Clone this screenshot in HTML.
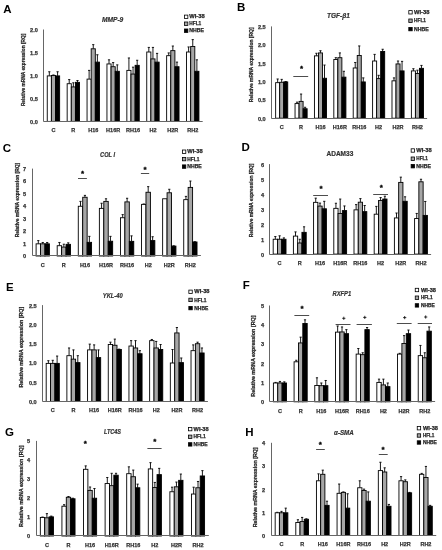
<!DOCTYPE html>
<html><head><meta charset="utf-8"><title>Figure</title><style>
html,body{margin:0;padding:0;background:#fff;}
svg{display:block;filter:blur(0.3px);}
text{font-family:"Liberation Sans", Arial, sans-serif;}
.lt{font-size:11.5px;font-weight:bold;fill:#000;}
.ti{font-size:6.6px;font-style:italic;font-weight:bold;fill:#333;stroke:#333;stroke-width:0.2px;}
.tn{font-size:6.6px;font-weight:bold;fill:#333;stroke:#333;stroke-width:0.2px;}
.tk{font-size:5.6px;font-weight:bold;fill:#333;stroke:#333;stroke-width:0.25px;text-anchor:end;}
.cl{font-size:5.5px;font-weight:bold;fill:#333;stroke:#333;stroke-width:0.25px;text-anchor:middle;}
.yt{font-size:5.5px;font-weight:bold;fill:#262626;stroke:#262626;stroke-width:0.25px;}
.yt2{font-size:5.6px;font-weight:bold;fill:#262626;stroke:#262626;stroke-width:0.25px;}
.le{font-size:5.0px;font-weight:bold;fill:#262626;stroke:#262626;stroke-width:0.25px;}
.ax{fill:none;stroke:#666;stroke-width:1.0;}
.br{stroke:#000;stroke-width:0.9;}
.eb{fill:none;stroke:#000;stroke-width:0.9;}
.sg{fill:none;stroke:#4d4d4d;stroke-width:1.0;}
.pl{fill:none;stroke:#000;stroke-width:0.8;}
.st{font-size:8px;font-weight:bold;fill:#000;stroke:#000;stroke-width:0.3px;text-anchor:middle;}
.lg{stroke:#000;stroke-width:0.8;}
</style></head>
<body><svg width="442" height="550" viewBox="0 0 442 550">
<rect width="442" height="550" fill="#fff"/>
<text x="3.2" y="13.3" class="lt">A</text>
<text x="102" y="21.7" class="ti" textLength="21.3" lengthAdjust="spacingAndGlyphs">MMP-9</text>
<text x="37.8" y="123.8" class="tk">0.0</text>
<text x="37.8" y="100.83" class="tk">0.5</text>
<text x="37.8" y="77.85" class="tk">1.0</text>
<text x="37.8" y="54.87" class="tk">1.5</text>
<text x="37.8" y="31.9" class="tk">2.0</text>
<text transform="translate(25.3 106.1) rotate(-90)" class="yt" textLength="72.5" lengthAdjust="spacingAndGlyphs">Relative mRNA expression [RQ]</text>
<path d="M49.32 75.9V71.76M48.22 71.76H50.42" class="eb"/>
<rect x="47.25" y="75.9" width="4.13" height="45.5" fill="#ffffff" class="br"/>
<path d="M53.45 75.44V74.98M52.35 74.98H54.55" class="eb"/>
<rect x="51.38" y="75.44" width="4.13" height="45.96" fill="#a6a6a6" class="br"/>
<path d="M57.58 75.9V71.76M56.48 71.76H58.68" class="eb"/>
<rect x="55.51" y="75.9" width="4.13" height="45.5" fill="#000000" class="br"/>
<text x="53.45" y="132.2" class="cl">C</text>
<path d="M69.22 83.71V79.58M68.12 79.58H70.32" class="eb"/>
<rect x="67.16" y="83.71" width="4.13" height="37.69" fill="#ffffff" class="br"/>
<path d="M73.35 86.93V82.79M72.25 82.79H74.45" class="eb"/>
<rect x="71.28" y="86.93" width="4.13" height="34.47" fill="#a6a6a6" class="br"/>
<path d="M77.48 82.33V80.5M76.38 80.5H78.58" class="eb"/>
<rect x="75.42" y="82.33" width="4.13" height="39.07" fill="#000000" class="br"/>
<text x="73.35" y="132.2" class="cl">R</text>
<path d="M89.12 79.12V70.39M88.02 70.39H90.22" class="eb"/>
<rect x="87.05" y="79.12" width="4.13" height="42.28" fill="#ffffff" class="br"/>
<path d="M93.25 48.79V44.65M92.15 44.65H94.35" class="eb"/>
<rect x="91.18" y="48.79" width="4.13" height="72.61" fill="#a6a6a6" class="br"/>
<path d="M97.38 62.12V54.76M96.28 54.76H98.48" class="eb"/>
<rect x="95.31" y="62.12" width="4.13" height="59.29" fill="#000000" class="br"/>
<text x="93.25" y="132.2" class="cl">H16</text>
<path d="M109.02 63.95V59.82M107.92 59.82H110.12" class="eb"/>
<rect x="106.95" y="63.95" width="4.13" height="57.45" fill="#ffffff" class="br"/>
<path d="M113.15 66.71V62.57M112.05 62.57H114.25" class="eb"/>
<rect x="111.08" y="66.71" width="4.13" height="54.69" fill="#a6a6a6" class="br"/>
<path d="M117.28 71.3V64.87M116.18 64.87H118.38" class="eb"/>
<rect x="115.21" y="71.3" width="4.13" height="50.1" fill="#000000" class="br"/>
<text x="113.15" y="132.2" class="cl">H16R</text>
<path d="M128.92 70.39V57.98M127.82 57.98H130.02" class="eb"/>
<rect x="126.85" y="70.39" width="4.13" height="51.01" fill="#ffffff" class="br"/>
<path d="M133.05 74.06V67.17M131.95 67.17H134.15" class="eb"/>
<rect x="130.98" y="74.06" width="4.13" height="47.34" fill="#a6a6a6" class="br"/>
<path d="M137.18 65.33V60.28M136.08 60.28H138.28" class="eb"/>
<rect x="135.11" y="65.33" width="4.13" height="56.07" fill="#000000" class="br"/>
<text x="133.05" y="132.2" class="cl">RH16</text>
<path d="M148.82 52.01V47.41M147.72 47.41H149.92" class="eb"/>
<rect x="146.75" y="52.01" width="4.13" height="69.39" fill="#ffffff" class="br"/>
<path d="M152.95 58.9V47.41M151.85 47.41H154.05" class="eb"/>
<rect x="150.88" y="58.9" width="4.13" height="62.5" fill="#a6a6a6" class="br"/>
<path d="M157.08 62.12V53.38M155.98 53.38H158.18" class="eb"/>
<rect x="155.01" y="62.12" width="4.13" height="59.29" fill="#000000" class="br"/>
<text x="152.95" y="132.2" class="cl">H2</text>
<path d="M168.72 55.68V52.92M167.62 52.92H169.82" class="eb"/>
<rect x="166.65" y="55.68" width="4.13" height="65.72" fill="#ffffff" class="br"/>
<path d="M172.85 50.63V46.03M171.75 46.03H173.95" class="eb"/>
<rect x="170.78" y="50.63" width="4.13" height="70.77" fill="#a6a6a6" class="br"/>
<path d="M176.98 66.71V62.12M175.88 62.12H178.08" class="eb"/>
<rect x="174.91" y="66.71" width="4.13" height="54.69" fill="#000000" class="br"/>
<text x="172.85" y="132.2" class="cl">H2R</text>
<path d="M188.62 52.01V46.95M187.52 46.95H189.72" class="eb"/>
<rect x="186.55" y="52.01" width="4.13" height="69.39" fill="#ffffff" class="br"/>
<path d="M192.75 46.49V39.6M191.65 39.6H193.85" class="eb"/>
<rect x="190.68" y="46.49" width="4.13" height="74.91" fill="#a6a6a6" class="br"/>
<path d="M196.88 71.3V59.82M195.78 59.82H197.98" class="eb"/>
<rect x="194.81" y="71.3" width="4.13" height="50.1" fill="#000000" class="br"/>
<text x="192.75" y="132.2" class="cl">RH2</text>
<path d="M43.5 29.5V121.5H202.7" class="ax"/>
<rect x="184.45" y="15.1" width="3.4" height="3.4" fill="#ffffff" class="lg"/>
<text x="189.3" y="18.45" class="le" textLength="15.4" lengthAdjust="spacingAndGlyphs">WI-38</text>
<rect x="184.45" y="22" width="3.4" height="3.4" fill="#a6a6a6" class="lg"/>
<text x="189.3" y="25.35" class="le" textLength="11.9" lengthAdjust="spacingAndGlyphs">HFL1</text>
<rect x="184.45" y="29" width="3.4" height="3.4" fill="#000000" class="lg"/>
<text x="189.3" y="32.35" class="le" textLength="14.6" lengthAdjust="spacingAndGlyphs">NHBE</text>
<text x="236.9" y="11.2" class="lt">B</text>
<text x="327" y="18.2" class="ti" textLength="22.8" lengthAdjust="spacingAndGlyphs">TGF-β1</text>
<text x="265.7" y="120.6" class="tk">0.0</text>
<text x="265.7" y="102.24" class="tk">0.5</text>
<text x="265.7" y="83.88" class="tk">1.0</text>
<text x="265.7" y="65.52" class="tk">1.5</text>
<text x="265.7" y="47.16" class="tk">2.0</text>
<text x="265.7" y="28.8" class="tk">2.5</text>
<text transform="translate(252.9 102.3) rotate(-90)" class="yt" textLength="74.9" lengthAdjust="spacingAndGlyphs">Relative mRNA expression [RQ]</text>
<path d="M277.66 82.66V78.99M276.56 78.99H278.76" class="eb"/>
<rect x="275.65" y="82.66" width="4.03" height="35.54" fill="#ffffff" class="br"/>
<path d="M281.69 82.3V79.36M280.59 79.36H282.79" class="eb"/>
<rect x="279.68" y="82.3" width="4.03" height="35.9" fill="#a6a6a6" class="br"/>
<path d="M285.72 81.93V81.56M284.62 81.56H286.82" class="eb"/>
<rect x="283.71" y="81.93" width="4.03" height="36.27" fill="#000000" class="br"/>
<text x="281.69" y="128.6" class="cl">C</text>
<path d="M297.05 103.59V102.13M295.95 102.13H298.15" class="eb"/>
<rect x="295.04" y="103.59" width="4.03" height="14.61" fill="#ffffff" class="br"/>
<path d="M301.08 101.39V94.05M299.98 94.05H302.18" class="eb"/>
<rect x="299.07" y="101.39" width="4.03" height="16.81" fill="#a6a6a6" class="br"/>
<path d="M305.11 108.74V107.27M304.01 107.27H306.21" class="eb"/>
<rect x="303.1" y="108.74" width="4.03" height="9.46" fill="#000000" class="br"/>
<text x="301.08" y="128.6" class="cl">R</text>
<path d="M316.44 55.86V53.29M315.34 53.29H317.54" class="eb"/>
<rect x="314.43" y="55.86" width="4.03" height="62.34" fill="#ffffff" class="br"/>
<path d="M320.47 52.92V50.72M319.37 50.72H321.57" class="eb"/>
<rect x="318.46" y="52.92" width="4.03" height="65.28" fill="#a6a6a6" class="br"/>
<path d="M324.5 78.26V65.04M323.4 65.04H325.6" class="eb"/>
<rect x="322.49" y="78.26" width="4.03" height="39.94" fill="#000000" class="br"/>
<text x="320.48" y="128.6" class="cl">H16</text>
<path d="M335.83 59.53V57.69M334.73 57.69H336.94" class="eb"/>
<rect x="333.82" y="59.53" width="4.03" height="58.67" fill="#ffffff" class="br"/>
<path d="M339.86 57.69V52.92M338.76 52.92H340.96" class="eb"/>
<rect x="337.85" y="57.69" width="4.03" height="60.51" fill="#a6a6a6" class="br"/>
<path d="M343.89 77.16V71.28M342.79 71.28H345" class="eb"/>
<rect x="341.88" y="77.16" width="4.03" height="41.04" fill="#000000" class="br"/>
<text x="339.87" y="128.6" class="cl">H16R</text>
<path d="M355.22 67.98V62.47M354.12 62.47H356.32" class="eb"/>
<rect x="353.21" y="67.98" width="4.03" height="50.22" fill="#ffffff" class="br"/>
<path d="M359.25 55.49V45.94M358.15 45.94H360.35" class="eb"/>
<rect x="357.24" y="55.49" width="4.03" height="62.71" fill="#a6a6a6" class="br"/>
<path d="M363.28 81.93V77.89M362.18 77.89H364.38" class="eb"/>
<rect x="361.27" y="81.93" width="4.03" height="36.27" fill="#000000" class="br"/>
<text x="359.25" y="128.6" class="cl">RH16</text>
<path d="M374.61 61V54.39M373.51 54.39H375.71" class="eb"/>
<rect x="372.6" y="61" width="4.03" height="57.2" fill="#ffffff" class="br"/>
<path d="M378.64 78.63V75.32M377.54 75.32H379.74" class="eb"/>
<rect x="376.63" y="78.63" width="4.03" height="39.57" fill="#a6a6a6" class="br"/>
<path d="M382.67 51.45V49.25M381.57 49.25H383.77" class="eb"/>
<rect x="380.66" y="51.45" width="4.03" height="66.75" fill="#000000" class="br"/>
<text x="378.64" y="128.6" class="cl">H2</text>
<path d="M394 80.83V77.89M392.9 77.89H395.11" class="eb"/>
<rect x="391.99" y="80.83" width="4.03" height="37.37" fill="#ffffff" class="br"/>
<path d="M398.03 63.94V61M396.93 61H399.13" class="eb"/>
<rect x="396.02" y="63.94" width="4.03" height="54.26" fill="#a6a6a6" class="br"/>
<path d="M402.06 70.91V61.37M400.96 61.37H403.17" class="eb"/>
<rect x="400.05" y="70.91" width="4.03" height="47.29" fill="#000000" class="br"/>
<text x="398.03" y="128.6" class="cl">H2R</text>
<path d="M413.39 70.91V68.71M412.29 68.71H414.5" class="eb"/>
<rect x="411.38" y="70.91" width="4.03" height="47.29" fill="#ffffff" class="br"/>
<path d="M417.42 73.48V70.18M416.32 70.18H418.52" class="eb"/>
<rect x="415.41" y="73.48" width="4.03" height="44.72" fill="#a6a6a6" class="br"/>
<path d="M421.45 68.34V65.41M420.35 65.41H422.56" class="eb"/>
<rect x="419.44" y="68.34" width="4.03" height="49.86" fill="#000000" class="br"/>
<text x="417.43" y="128.6" class="cl">RH2</text>
<path d="M271.5 26.4V118.5H427.12" class="ax"/>
<path d="M293.3 76.5H308.2" class="sg"/>
<text x="301.5" y="71.45" class="st">*</text>
<rect x="408.8" y="10.6" width="3.4" height="3.4" fill="#ffffff" class="lg"/>
<text x="414.1" y="13.95" class="le" textLength="15.3" lengthAdjust="spacingAndGlyphs">WI-38</text>
<rect x="408.8" y="19" width="3.4" height="3.4" fill="#a6a6a6" class="lg"/>
<text x="414.1" y="22.35" class="le" textLength="11.8" lengthAdjust="spacingAndGlyphs">HFL1</text>
<rect x="408.8" y="27.4" width="3.4" height="3.4" fill="#000000" class="lg"/>
<text x="414.1" y="30.75" class="le" textLength="14.6" lengthAdjust="spacingAndGlyphs">NHBE</text>
<text x="2.8" y="151.6" class="lt">C</text>
<text x="100.1" y="156.6" class="ti" textLength="15" lengthAdjust="spacingAndGlyphs">COL I</text>
<text x="26" y="258.4" class="tk">0</text>
<text x="26" y="245.91" class="tk">1</text>
<text x="26" y="233.43" class="tk">2</text>
<text x="26" y="220.94" class="tk">3</text>
<text x="26" y="208.46" class="tk">4</text>
<text x="26" y="195.97" class="tk">5</text>
<text x="26" y="183.49" class="tk">6</text>
<text x="26" y="171" class="tk">7</text>
<text transform="translate(18.7 237.3) rotate(-90)" class="yt" textLength="74.5" lengthAdjust="spacingAndGlyphs">Relative mRNA expression [RQ]</text>
<path d="M38.31 243.84V240.59M37.21 240.59H39.41" class="eb"/>
<rect x="36.1" y="243.84" width="4.43" height="12.16" fill="#ffffff" class="br"/>
<path d="M42.75 243.84V242.47M41.65 242.47H43.85" class="eb"/>
<rect x="40.53" y="243.84" width="4.43" height="12.16" fill="#a6a6a6" class="br"/>
<path d="M47.17 243.84V242.47M46.07 242.47H48.27" class="eb"/>
<rect x="44.96" y="243.84" width="4.43" height="12.16" fill="#000000" class="br"/>
<text x="42.75" y="266.8" class="cl">C</text>
<path d="M59.41 245.71V242.47M58.3 242.47H60.51" class="eb"/>
<rect x="57.19" y="245.71" width="4.43" height="10.29" fill="#ffffff" class="br"/>
<path d="M63.84 247.09V244.21M62.74 244.21H64.94" class="eb"/>
<rect x="61.62" y="247.09" width="4.43" height="8.91" fill="#a6a6a6" class="br"/>
<path d="M68.27 244.34V242.84M67.17 242.84H69.37" class="eb"/>
<rect x="66.05" y="244.34" width="4.43" height="11.66" fill="#000000" class="br"/>
<text x="63.84" y="266.8" class="cl">R</text>
<path d="M80.5 206.26V201.39M79.4 201.39H81.59" class="eb"/>
<rect x="78.28" y="206.26" width="4.43" height="49.74" fill="#ffffff" class="br"/>
<path d="M84.93 197.27V195.39M83.83 195.39H86.03" class="eb"/>
<rect x="82.71" y="197.27" width="4.43" height="58.73" fill="#a6a6a6" class="br"/>
<path d="M89.36 242.34V236.35M88.26 236.35H90.45" class="eb"/>
<rect x="87.14" y="242.34" width="4.43" height="13.66" fill="#000000" class="br"/>
<text x="84.93" y="266.8" class="cl">H16</text>
<path d="M101.59 208.38V203.26M100.49 203.26H102.69" class="eb"/>
<rect x="99.37" y="208.38" width="4.43" height="47.62" fill="#ffffff" class="br"/>
<path d="M106.02 201.39V198.77M104.92 198.77H107.12" class="eb"/>
<rect x="103.8" y="201.39" width="4.43" height="54.61" fill="#a6a6a6" class="br"/>
<path d="M110.45 241.22V236.35M109.35 236.35H111.55" class="eb"/>
<rect x="108.23" y="241.22" width="4.43" height="14.78" fill="#000000" class="br"/>
<text x="106.02" y="266.8" class="cl">H16R</text>
<path d="M122.68 217.74V214.62M121.58 214.62H123.78" class="eb"/>
<rect x="120.46" y="217.74" width="4.43" height="38.26" fill="#ffffff" class="br"/>
<path d="M127.11 201.89V198.27M126.01 198.27H128.21" class="eb"/>
<rect x="124.89" y="201.89" width="4.43" height="54.11" fill="#a6a6a6" class="br"/>
<path d="M131.53 241.34V235.85M130.44 235.85H132.63" class="eb"/>
<rect x="129.32" y="241.34" width="4.43" height="14.66" fill="#000000" class="br"/>
<text x="127.11" y="266.8" class="cl">RH16</text>
<path d="M143.77 204.38V204.01M142.67 204.01H144.87" class="eb"/>
<rect x="141.55" y="204.38" width="4.43" height="51.62" fill="#ffffff" class="br"/>
<path d="M148.2 192.27V186.65M147.1 186.65H149.3" class="eb"/>
<rect x="145.98" y="192.27" width="4.43" height="63.73" fill="#a6a6a6" class="br"/>
<path d="M152.63 240.59V236.72M151.53 236.72H153.73" class="eb"/>
<rect x="150.41" y="240.59" width="4.43" height="15.41" fill="#000000" class="br"/>
<text x="148.19" y="266.8" class="cl">H2</text>
<rect x="162.64" y="198.77" width="4.43" height="57.23" fill="#ffffff" class="br"/>
<path d="M169.29 192.77V189.28M168.19 189.28H170.39" class="eb"/>
<rect x="167.07" y="192.77" width="4.43" height="63.23" fill="#a6a6a6" class="br"/>
<path d="M173.72 246.09V245.84M172.62 245.84H174.81" class="eb"/>
<rect x="171.5" y="246.09" width="4.43" height="9.91" fill="#000000" class="br"/>
<text x="169.29" y="266.8" class="cl">H2R</text>
<path d="M185.94 199.64V196.39M184.84 196.39H187.04" class="eb"/>
<rect x="183.73" y="199.64" width="4.43" height="56.36" fill="#ffffff" class="br"/>
<path d="M190.38 187.4V181.04M189.28 181.04H191.47" class="eb"/>
<rect x="188.16" y="187.4" width="4.43" height="68.6" fill="#a6a6a6" class="br"/>
<path d="M194.8 241.97V241.72M193.7 241.72H195.9" class="eb"/>
<rect x="192.59" y="241.97" width="4.43" height="14.03" fill="#000000" class="br"/>
<text x="190.38" y="266.8" class="cl">RH2</text>
<path d="M32.5 168.6V255.5H200.92" class="ax"/>
<path d="M78 178.5H86.9" class="sg"/>
<text x="82.6" y="175.85" class="st">*</text>
<path d="M140.9 173.5H149.2" class="sg"/>
<text x="145" y="171.65" class="st">*</text>
<rect x="182.4" y="150" width="3.4" height="3.4" fill="#ffffff" class="lg"/>
<text x="187.3" y="153.35" class="le" textLength="15.3" lengthAdjust="spacingAndGlyphs">WI-38</text>
<rect x="182.4" y="157.4" width="3.4" height="3.4" fill="#a6a6a6" class="lg"/>
<text x="187.3" y="160.75" class="le" textLength="12.1" lengthAdjust="spacingAndGlyphs">HFL1</text>
<rect x="182.4" y="164.9" width="3.4" height="3.4" fill="#000000" class="lg"/>
<text x="187.3" y="168.25" class="le" textLength="14.4" lengthAdjust="spacingAndGlyphs">NHBE</text>
<text x="241.4" y="151.2" class="lt">D</text>
<text x="326.5" y="155.9" class="tn" textLength="26.8" lengthAdjust="spacingAndGlyphs">ADAM33</text>
<text x="264.2" y="256.5" class="tk">0</text>
<text x="264.2" y="241.5" class="tk">1</text>
<text x="264.2" y="226.5" class="tk">2</text>
<text x="264.2" y="211.5" class="tk">3</text>
<text x="264.2" y="196.5" class="tk">4</text>
<text x="264.2" y="181.5" class="tk">5</text>
<text x="264.2" y="166.5" class="tk">6</text>
<text transform="translate(252.9 237.3) rotate(-90)" class="yt" textLength="73.7" lengthAdjust="spacingAndGlyphs">Relative mRNA expression [RQ]</text>
<path d="M275.33 239.25V236.55M274.23 236.55H276.43" class="eb"/>
<rect x="273.19" y="239.25" width="4.27" height="14.85" fill="#ffffff" class="br"/>
<path d="M279.6 239.25V235.8M278.5 235.8H280.7" class="eb"/>
<rect x="277.46" y="239.25" width="4.27" height="14.85" fill="#a6a6a6" class="br"/>
<path d="M283.87 239.25V237.9M282.77 237.9H284.97" class="eb"/>
<rect x="281.74" y="239.25" width="4.27" height="14.85" fill="#000000" class="br"/>
<text x="279.6" y="264.7" class="cl">C</text>
<path d="M295.53 236.1V231.9M294.43 231.9H296.63" class="eb"/>
<rect x="293.39" y="236.1" width="4.27" height="18" fill="#ffffff" class="br"/>
<path d="M299.8 243V239.25M298.7 239.25H300.9" class="eb"/>
<rect x="297.66" y="243" width="4.27" height="11.1" fill="#a6a6a6" class="br"/>
<path d="M304.07 232.35V226.8M302.97 226.8H305.17" class="eb"/>
<rect x="301.94" y="232.35" width="4.27" height="21.75" fill="#000000" class="br"/>
<text x="299.8" y="264.7" class="cl">R</text>
<path d="M315.73 202.35V198.15M314.63 198.15H316.83" class="eb"/>
<rect x="313.59" y="202.35" width="4.27" height="51.75" fill="#ffffff" class="br"/>
<path d="M320 206.1V203.1M318.9 203.1H321.1" class="eb"/>
<rect x="317.86" y="206.1" width="4.27" height="48" fill="#a6a6a6" class="br"/>
<path d="M324.27 208.8V201.3M323.17 201.3H325.37" class="eb"/>
<rect x="322.13" y="208.8" width="4.27" height="45.3" fill="#000000" class="br"/>
<text x="320" y="264.7" class="cl">H16</text>
<path d="M335.93 208.35V203.25M334.83 203.25H337.03" class="eb"/>
<rect x="333.8" y="208.35" width="4.27" height="45.75" fill="#ffffff" class="br"/>
<path d="M340.2 213.45V199.05M339.1 199.05H341.3" class="eb"/>
<rect x="338.06" y="213.45" width="4.27" height="40.65" fill="#a6a6a6" class="br"/>
<path d="M344.47 210.6V205.95M343.37 205.95H345.57" class="eb"/>
<rect x="342.34" y="210.6" width="4.27" height="43.5" fill="#000000" class="br"/>
<text x="340.2" y="264.7" class="cl">H16R</text>
<path d="M356.13 209.85V204.6M355.03 204.6H357.23" class="eb"/>
<rect x="354" y="209.85" width="4.27" height="44.25" fill="#ffffff" class="br"/>
<path d="M360.4 202.2V198.6M359.3 198.6H361.5" class="eb"/>
<rect x="358.26" y="202.2" width="4.27" height="51.9" fill="#a6a6a6" class="br"/>
<path d="M364.67 211.65V205.5M363.57 205.5H365.77" class="eb"/>
<rect x="362.54" y="211.65" width="4.27" height="42.45" fill="#000000" class="br"/>
<text x="360.4" y="264.7" class="cl">RH16</text>
<path d="M376.33 214.2V206.4M375.23 206.4H377.43" class="eb"/>
<rect x="374.19" y="214.2" width="4.27" height="39.9" fill="#ffffff" class="br"/>
<path d="M380.6 200.55V197.55M379.5 197.55H381.7" class="eb"/>
<rect x="378.46" y="200.55" width="4.27" height="53.55" fill="#a6a6a6" class="br"/>
<path d="M384.87 199.05V196.2M383.77 196.2H385.97" class="eb"/>
<rect x="382.74" y="199.05" width="4.27" height="55.05" fill="#000000" class="br"/>
<text x="380.6" y="264.7" class="cl">H2</text>
<path d="M396.53 217.95V213M395.43 213H397.63" class="eb"/>
<rect x="394.39" y="217.95" width="4.27" height="36.15" fill="#ffffff" class="br"/>
<path d="M400.8 182.4V177.15M399.7 177.15H401.9" class="eb"/>
<rect x="398.66" y="182.4" width="4.27" height="71.7" fill="#a6a6a6" class="br"/>
<path d="M405.07 201.3V196.8M403.97 196.8H406.17" class="eb"/>
<rect x="402.94" y="201.3" width="4.27" height="52.8" fill="#000000" class="br"/>
<text x="400.8" y="264.7" class="cl">H2R</text>
<path d="M416.73 218.55V213.45M415.63 213.45H417.83" class="eb"/>
<rect x="414.59" y="218.55" width="4.27" height="35.55" fill="#ffffff" class="br"/>
<path d="M421 181.8V179.25M419.9 179.25H422.1" class="eb"/>
<rect x="418.86" y="181.8" width="4.27" height="72.3" fill="#a6a6a6" class="br"/>
<path d="M425.27 215.4V201.45M424.17 201.45H426.37" class="eb"/>
<rect x="423.13" y="215.4" width="4.27" height="38.7" fill="#000000" class="br"/>
<text x="421" y="264.7" class="cl">RH2</text>
<path d="M269.5 164.1V254.5H431.1" class="ax"/>
<path d="M313.2 195.5H328" class="sg"/>
<text x="321" y="191.25" class="st">*</text>
<path d="M373.2 194.5H388" class="sg"/>
<text x="381.2" y="189.75" class="st">*</text>
<rect x="411.15" y="148.8" width="3.4" height="3.4" fill="#ffffff" class="lg"/>
<text x="416.3" y="152.15" class="le" textLength="15.3" lengthAdjust="spacingAndGlyphs">WI-38</text>
<rect x="411.15" y="157" width="3.4" height="3.4" fill="#a6a6a6" class="lg"/>
<text x="416.3" y="160.35" class="le" textLength="11.6" lengthAdjust="spacingAndGlyphs">HFL1</text>
<rect x="411.15" y="164.5" width="3.4" height="3.4" fill="#000000" class="lg"/>
<text x="416.3" y="167.85" class="le" textLength="14.5" lengthAdjust="spacingAndGlyphs">NHBE</text>
<text x="5.9" y="291.3" class="lt">E</text>
<text x="102.8" y="297.8" class="ti" textLength="19.8" lengthAdjust="spacingAndGlyphs">YKL-40</text>
<text x="36.7" y="403.9" class="tk">0.0</text>
<text x="36.7" y="384.62" class="tk">0.5</text>
<text x="36.7" y="365.34" class="tk">1.0</text>
<text x="36.7" y="346.06" class="tk">1.5</text>
<text x="36.7" y="326.78" class="tk">2.0</text>
<text x="36.7" y="307.5" class="tk">2.5</text>
<text transform="translate(23 387.6) rotate(-90)" class="yt2" textLength="80.8" lengthAdjust="spacingAndGlyphs">Relative mRNA expression [RQ]</text>
<path d="M48.38 363.39V360.69M47.27 360.69H49.48" class="eb"/>
<rect x="46.19" y="363.39" width="4.37" height="38.11" fill="#ffffff" class="br"/>
<path d="M52.74 363.39V360.31M51.64 360.31H53.84" class="eb"/>
<rect x="50.56" y="363.39" width="4.37" height="38.11" fill="#a6a6a6" class="br"/>
<path d="M57.12 363.39V356.06M56.02 356.06H58.22" class="eb"/>
<rect x="54.93" y="363.39" width="4.37" height="38.11" fill="#000000" class="br"/>
<text x="52.74" y="412.3" class="cl">C</text>
<path d="M69.07 355.68V347.97M67.97 347.97H70.17" class="eb"/>
<rect x="66.88" y="355.68" width="4.37" height="45.82" fill="#ffffff" class="br"/>
<path d="M73.44 359.15V349.89M72.34 349.89H74.54" class="eb"/>
<rect x="71.25" y="359.15" width="4.37" height="42.35" fill="#a6a6a6" class="br"/>
<path d="M77.81 362.62V355.68M76.71 355.68H78.91" class="eb"/>
<rect x="75.62" y="362.62" width="4.37" height="38.88" fill="#000000" class="br"/>
<text x="73.44" y="412.3" class="cl">R</text>
<path d="M89.76 349.89V344.11M88.66 344.11H90.86" class="eb"/>
<rect x="87.57" y="349.89" width="4.37" height="51.61" fill="#ffffff" class="br"/>
<path d="M94.13 349.89V344.88M93.03 344.88H95.23" class="eb"/>
<rect x="91.94" y="349.89" width="4.37" height="51.61" fill="#a6a6a6" class="br"/>
<path d="M98.5 357.61V349.89M97.4 349.89H99.59" class="eb"/>
<rect x="96.31" y="357.61" width="4.37" height="43.89" fill="#000000" class="br"/>
<text x="94.12" y="412.3" class="cl">H16</text>
<path d="M110.45 344.5V342.18M109.35 342.18H111.55" class="eb"/>
<rect x="108.26" y="344.5" width="4.37" height="57" fill="#ffffff" class="br"/>
<path d="M114.82 345.27V339.1M113.72 339.1H115.92" class="eb"/>
<rect x="112.63" y="345.27" width="4.37" height="56.23" fill="#a6a6a6" class="br"/>
<path d="M119.19 349.51V349.12M118.09 349.12H120.28" class="eb"/>
<rect x="117" y="349.51" width="4.37" height="51.99" fill="#000000" class="br"/>
<text x="114.81" y="412.3" class="cl">H16R</text>
<path d="M131.13 346.04V340.64M130.03 340.64H132.23" class="eb"/>
<rect x="128.95" y="346.04" width="4.37" height="55.46" fill="#ffffff" class="br"/>
<path d="M135.5 347.97V340.64M134.41 340.64H136.6" class="eb"/>
<rect x="133.32" y="347.97" width="4.37" height="53.53" fill="#a6a6a6" class="br"/>
<path d="M139.88 353.75V350.67M138.78 350.67H140.97" class="eb"/>
<rect x="137.69" y="353.75" width="4.37" height="47.75" fill="#000000" class="br"/>
<text x="135.5" y="412.3" class="cl">RH16</text>
<path d="M151.82 340.64V339.48M150.72 339.48H152.92" class="eb"/>
<rect x="149.64" y="340.64" width="4.37" height="60.86" fill="#ffffff" class="br"/>
<path d="M156.19 347.97V341.41M155.09 341.41H157.29" class="eb"/>
<rect x="154.01" y="347.97" width="4.37" height="53.53" fill="#a6a6a6" class="br"/>
<path d="M160.56 349.51V344.5M159.47 344.5H161.66" class="eb"/>
<rect x="158.38" y="349.51" width="4.37" height="51.99" fill="#000000" class="br"/>
<text x="156.19" y="412.3" class="cl">H2</text>
<path d="M172.52 363V349.51M171.42 349.51H173.62" class="eb"/>
<rect x="170.33" y="363" width="4.37" height="38.5" fill="#ffffff" class="br"/>
<path d="M176.89 332.93V327.53M175.79 327.53H177.99" class="eb"/>
<rect x="174.7" y="332.93" width="4.37" height="68.57" fill="#a6a6a6" class="br"/>
<path d="M181.26 362.62V357.99M180.16 357.99H182.36" class="eb"/>
<rect x="179.07" y="362.62" width="4.37" height="38.88" fill="#000000" class="br"/>
<text x="176.89" y="412.3" class="cl">H2R</text>
<path d="M193.21 350.67V344.88M192.11 344.88H194.31" class="eb"/>
<rect x="191.02" y="350.67" width="4.37" height="50.83" fill="#ffffff" class="br"/>
<path d="M197.58 343.72V342.18M196.48 342.18H198.68" class="eb"/>
<rect x="195.39" y="343.72" width="4.37" height="57.78" fill="#a6a6a6" class="br"/>
<path d="M201.95 352.98V347.97M200.85 347.97H203.05" class="eb"/>
<rect x="199.76" y="352.98" width="4.37" height="48.52" fill="#000000" class="br"/>
<text x="197.58" y="412.3" class="cl">RH2</text>
<path d="M42.5 305.1V401.5H207.92" class="ax"/>
<rect x="188.85" y="290.1" width="3.4" height="3.4" fill="#ffffff" class="lg"/>
<text x="194.3" y="293.45" class="le" textLength="15.2" lengthAdjust="spacingAndGlyphs">WI-38</text>
<rect x="188.85" y="298.2" width="3.4" height="3.4" fill="#a6a6a6" class="lg"/>
<text x="194.3" y="301.55" class="le" textLength="12" lengthAdjust="spacingAndGlyphs">HFL1</text>
<rect x="188.85" y="306.4" width="3.4" height="3.4" fill="#000000" class="lg"/>
<text x="194.3" y="309.75" class="le" textLength="14" lengthAdjust="spacingAndGlyphs">NHBE</text>
<text x="242.8" y="289.2" class="lt">F</text>
<text x="332.5" y="296.2" class="ti" textLength="18.6" lengthAdjust="spacingAndGlyphs">RXFP1</text>
<text x="264.2" y="404.2" class="tk">0</text>
<text x="264.2" y="384.94" class="tk">1</text>
<text x="264.2" y="365.68" class="tk">2</text>
<text x="264.2" y="346.42" class="tk">3</text>
<text x="264.2" y="327.16" class="tk">4</text>
<text x="264.2" y="307.9" class="tk">5</text>
<text transform="translate(254.5 396.7) rotate(-90)" class="yt2" textLength="81.2" lengthAdjust="spacingAndGlyphs">Relative mRNA expression [RQ]</text>
<path d="M275.58 382.99V382.41M274.48 382.41H276.68" class="eb"/>
<rect x="273.39" y="382.99" width="4.37" height="18.81" fill="#ffffff" class="br"/>
<path d="M279.95 382.99V381.45M278.85 381.45H281.05" class="eb"/>
<rect x="277.76" y="382.99" width="4.37" height="18.81" fill="#a6a6a6" class="br"/>
<path d="M284.32 382.99V381.83M283.22 381.83H285.42" class="eb"/>
<rect x="282.13" y="382.99" width="4.37" height="18.81" fill="#000000" class="br"/>
<text x="279.95" y="412.5" class="cl">C</text>
<path d="M296.27 361.8V360.26M295.17 360.26H297.37" class="eb"/>
<rect x="294.08" y="361.8" width="4.37" height="40" fill="#ffffff" class="br"/>
<path d="M300.64 342.93V337.15M299.54 337.15H301.74" class="eb"/>
<rect x="298.45" y="342.93" width="4.37" height="58.87" fill="#a6a6a6" class="br"/>
<path d="M305.01 323.48V319.82M303.91 319.82H306.11" class="eb"/>
<rect x="302.82" y="323.48" width="4.37" height="78.32" fill="#000000" class="br"/>
<text x="300.64" y="412.5" class="cl">R</text>
<path d="M316.96 385.49V377.79M315.86 377.79H318.06" class="eb"/>
<rect x="314.77" y="385.49" width="4.37" height="16.31" fill="#ffffff" class="br"/>
<path d="M321.33 385.69V382.99M320.23 382.99H322.43" class="eb"/>
<rect x="319.14" y="385.69" width="4.37" height="16.11" fill="#a6a6a6" class="br"/>
<path d="M325.7 385.69V380.49M324.6 380.49H326.8" class="eb"/>
<rect x="323.51" y="385.69" width="4.37" height="16.11" fill="#000000" class="br"/>
<text x="321.33" y="412.5" class="cl">H16</text>
<path d="M337.65 332.14V325.98M336.55 325.98H338.75" class="eb"/>
<rect x="335.46" y="332.14" width="4.37" height="69.66" fill="#ffffff" class="br"/>
<path d="M342.02 331.95V326.94M340.92 326.94H343.12" class="eb"/>
<rect x="339.83" y="331.95" width="4.37" height="69.85" fill="#a6a6a6" class="br"/>
<path d="M346.39 333.68V329.64M345.29 329.64H347.49" class="eb"/>
<rect x="344.2" y="333.68" width="4.37" height="68.12" fill="#000000" class="br"/>
<text x="342.02" y="412.5" class="cl">H16R</text>
<path d="M358.34 354.1V348.51M357.24 348.51H359.44" class="eb"/>
<rect x="356.15" y="354.1" width="4.37" height="47.7" fill="#ffffff" class="br"/>
<path d="M362.71 354.68V352.75M361.61 352.75H363.81" class="eb"/>
<rect x="360.52" y="354.68" width="4.37" height="47.12" fill="#a6a6a6" class="br"/>
<path d="M367.08 329.64V327.52M365.98 327.52H368.18" class="eb"/>
<rect x="364.89" y="329.64" width="4.37" height="72.16" fill="#000000" class="br"/>
<text x="362.71" y="412.5" class="cl">RH16</text>
<path d="M379.03 382.41V379.14M377.93 379.14H380.13" class="eb"/>
<rect x="376.84" y="382.41" width="4.37" height="19.39" fill="#ffffff" class="br"/>
<path d="M383.4 384.92V379.14M382.3 379.14H384.5" class="eb"/>
<rect x="381.21" y="384.92" width="4.37" height="16.88" fill="#a6a6a6" class="br"/>
<path d="M387.77 386.65V382.99M386.67 382.99H388.87" class="eb"/>
<rect x="385.58" y="386.65" width="4.37" height="15.15" fill="#000000" class="br"/>
<text x="383.4" y="412.5" class="cl">H2</text>
<path d="M399.72 354.1V353.33M398.62 353.33H400.82" class="eb"/>
<rect x="397.53" y="354.1" width="4.37" height="47.7" fill="#ffffff" class="br"/>
<path d="M404.09 343.51V335.61M402.99 335.61H405.19" class="eb"/>
<rect x="401.9" y="343.51" width="4.37" height="58.29" fill="#a6a6a6" class="br"/>
<path d="M408.46 333.68V330.02M407.36 330.02H409.56" class="eb"/>
<rect x="406.27" y="333.68" width="4.37" height="68.12" fill="#000000" class="br"/>
<text x="404.09" y="412.5" class="cl">H2R</text>
<path d="M420.41 355.64V345.43M419.31 345.43H421.51" class="eb"/>
<rect x="418.22" y="355.64" width="4.37" height="46.16" fill="#ffffff" class="br"/>
<path d="M424.78 357.76V352.75M423.68 352.75H425.88" class="eb"/>
<rect x="422.59" y="357.76" width="4.37" height="44.04" fill="#a6a6a6" class="br"/>
<path d="M429.15 331.18V326.94M428.05 326.94H430.25" class="eb"/>
<rect x="426.96" y="331.18" width="4.37" height="70.62" fill="#000000" class="br"/>
<text x="424.78" y="412.5" class="cl">RH2</text>
<path d="M269.5 305.5V401.5H435.12" class="ax"/>
<path d="M294.4 315.5H309.2" class="sg"/>
<text x="302" y="311.05" class="st">*</text>
<path d="M335.6 324.5H350.5" class="sg"/>
<path d="M342.2 318.3H345.4M343.8 316.7V319.9" class="pl"/>
<path d="M356.6 324.5H371.9" class="sg"/>
<path d="M363.2 317.4H366.4M364.8 315.8V319" class="pl"/>
<path d="M396.8 323.5H411.6" class="sg"/>
<path d="M403.1 317.6H406.3M404.7 316V319.2" class="pl"/>
<path d="M417.7 323.5H432" class="sg"/>
<path d="M424.1 317H427.3M425.7 315.4V318.6" class="pl"/>
<rect x="415.25" y="288.3" width="3.4" height="3.4" fill="#ffffff" class="lg"/>
<text x="420.9" y="291.65" class="le" textLength="15" lengthAdjust="spacingAndGlyphs">WI-38</text>
<rect x="415.25" y="296" width="3.4" height="3.4" fill="#a6a6a6" class="lg"/>
<text x="420.9" y="299.35" class="le" textLength="11.6" lengthAdjust="spacingAndGlyphs">HFL1</text>
<rect x="415.25" y="303.7" width="3.4" height="3.4" fill="#000000" class="lg"/>
<text x="420.9" y="307.05" class="le" textLength="13.8" lengthAdjust="spacingAndGlyphs">NHBE</text>
<text x="5.1" y="435.5" class="lt">G</text>
<text x="104" y="433.8" class="ti" textLength="17" lengthAdjust="spacingAndGlyphs">LTC4S</text>
<text x="30.1" y="538.4" class="tk">0</text>
<text x="30.1" y="519.38" class="tk">1</text>
<text x="30.1" y="500.36" class="tk">2</text>
<text x="30.1" y="481.34" class="tk">3</text>
<text x="30.1" y="462.32" class="tk">4</text>
<text x="30.1" y="443.3" class="tk">5</text>
<text transform="translate(23 526.9) rotate(-90)" class="yt2" textLength="81.4" lengthAdjust="spacingAndGlyphs">Relative mRNA expression [RQ]</text>
<path d="M42.53 517.43V517.05M41.43 517.05H43.63" class="eb"/>
<rect x="40.34" y="517.43" width="4.37" height="18.57" fill="#ffffff" class="br"/>
<path d="M46.9 517.81V513.63M45.8 513.63H48" class="eb"/>
<rect x="44.71" y="517.81" width="4.37" height="18.19" fill="#a6a6a6" class="br"/>
<path d="M51.27 516.86V516.1M50.17 516.1H52.37" class="eb"/>
<rect x="49.08" y="516.86" width="4.37" height="19.14" fill="#000000" class="br"/>
<text x="46.9" y="546.5" class="cl">C</text>
<path d="M64.11 506.21V504.69M63.01 504.69H65.21" class="eb"/>
<rect x="61.93" y="506.21" width="4.37" height="29.79" fill="#ffffff" class="br"/>
<path d="M68.48 497.27V496.51M67.39 496.51H69.58" class="eb"/>
<rect x="66.3" y="497.27" width="4.37" height="38.73" fill="#a6a6a6" class="br"/>
<path d="M72.86 498.79V498.22M71.76 498.22H73.95" class="eb"/>
<rect x="70.67" y="498.79" width="4.37" height="37.21" fill="#000000" class="br"/>
<text x="68.48" y="546.5" class="cl">R</text>
<path d="M85.7 469.31V465.89M84.61 465.89H86.8" class="eb"/>
<rect x="83.52" y="469.31" width="4.37" height="66.69" fill="#ffffff" class="br"/>
<path d="M90.08 490.42V487M88.98 487H91.17" class="eb"/>
<rect x="87.89" y="490.42" width="4.37" height="45.58" fill="#a6a6a6" class="br"/>
<path d="M94.44 498.22V488.52M93.34 488.52H95.54" class="eb"/>
<rect x="92.26" y="498.22" width="4.37" height="37.78" fill="#000000" class="br"/>
<text x="90.08" y="546.5" class="cl">H16</text>
<path d="M107.3 483.57V477.49M106.2 477.49H108.39" class="eb"/>
<rect x="105.11" y="483.57" width="4.37" height="52.43" fill="#ffffff" class="br"/>
<path d="M111.67 485.67V473.3M110.57 473.3H112.77" class="eb"/>
<rect x="109.48" y="485.67" width="4.37" height="50.33" fill="#a6a6a6" class="br"/>
<path d="M116.03 475.21V473.3M114.94 473.3H117.13" class="eb"/>
<rect x="113.85" y="475.21" width="4.37" height="60.79" fill="#000000" class="br"/>
<text x="111.66" y="546.5" class="cl">H16R</text>
<path d="M128.88 473.68V466.84M127.78 466.84H129.98" class="eb"/>
<rect x="126.7" y="473.68" width="4.37" height="62.32" fill="#ffffff" class="br"/>
<path d="M133.25 476.73V470.07M132.16 470.07H134.35" class="eb"/>
<rect x="131.07" y="476.73" width="4.37" height="59.27" fill="#a6a6a6" class="br"/>
<path d="M137.62 487.76V484.14M136.53 484.14H138.72" class="eb"/>
<rect x="135.44" y="487.76" width="4.37" height="48.24" fill="#000000" class="br"/>
<text x="133.25" y="546.5" class="cl">RH16</text>
<path d="M150.48 468.93V462.65M149.38 462.65H151.58" class="eb"/>
<rect x="148.29" y="468.93" width="4.37" height="67.07" fill="#ffffff" class="br"/>
<path d="M154.85 487.57V482.43M153.75 482.43H155.95" class="eb"/>
<rect x="152.66" y="487.57" width="4.37" height="48.43" fill="#a6a6a6" class="br"/>
<path d="M159.22 474.63V468.36M158.12 468.36H160.32" class="eb"/>
<rect x="157.03" y="474.63" width="4.37" height="61.37" fill="#000000" class="br"/>
<text x="154.84" y="546.5" class="cl">H2</text>
<path d="M172.06 491.75V487.19M170.97 487.19H173.16" class="eb"/>
<rect x="169.88" y="491.75" width="4.37" height="44.25" fill="#ffffff" class="br"/>
<path d="M176.44 486.81V482.05M175.34 482.05H177.53" class="eb"/>
<rect x="174.25" y="486.81" width="4.37" height="49.19" fill="#a6a6a6" class="br"/>
<path d="M180.81 480.34V474.06M179.71 474.06H181.91" class="eb"/>
<rect x="178.62" y="480.34" width="4.37" height="55.66" fill="#000000" class="br"/>
<text x="176.44" y="546.5" class="cl">H2R</text>
<path d="M193.66 494.04V487.19M192.56 487.19H194.75" class="eb"/>
<rect x="191.47" y="494.04" width="4.37" height="41.96" fill="#ffffff" class="br"/>
<path d="M198.03 487.76V481.48M196.93 481.48H199.12" class="eb"/>
<rect x="195.84" y="487.76" width="4.37" height="48.24" fill="#a6a6a6" class="br"/>
<path d="M202.4 475.97V470.64M201.3 470.64H203.5" class="eb"/>
<rect x="200.21" y="475.97" width="4.37" height="60.03" fill="#000000" class="br"/>
<text x="198.03" y="546.5" class="cl">RH2</text>
<path d="M36.5 440.9V535.5H208.82" class="ax"/>
<text x="85.2" y="446.15" class="st">*</text>
<path d="M147.4 448.5H161.6" class="sg"/>
<text x="154.7" y="443.55" class="st">*</text>
<rect x="188.5" y="427.4" width="3.4" height="3.4" fill="#ffffff" class="lg"/>
<text x="193.6" y="430.75" class="le" textLength="15" lengthAdjust="spacingAndGlyphs">WI-38</text>
<rect x="188.5" y="435.1" width="3.4" height="3.4" fill="#a6a6a6" class="lg"/>
<text x="193.6" y="438.45" class="le" textLength="12" lengthAdjust="spacingAndGlyphs">HFL1</text>
<rect x="188.5" y="442.7" width="3.4" height="3.4" fill="#000000" class="lg"/>
<text x="193.6" y="446.05" class="le" textLength="14.1" lengthAdjust="spacingAndGlyphs">NHBE</text>
<text x="245.2" y="436.1" class="lt">H</text>
<text x="334.1" y="434.7" class="ti" textLength="19.6" lengthAdjust="spacingAndGlyphs">α-SMA</text>
<text x="265.1" y="537.9" class="tk">0</text>
<text x="265.1" y="514.73" class="tk">1</text>
<text x="265.1" y="491.55" class="tk">2</text>
<text x="265.1" y="468.38" class="tk">3</text>
<text x="265.1" y="445.2" class="tk">4</text>
<text transform="translate(256.7 527.2) rotate(-90)" class="yt2" textLength="79.8" lengthAdjust="spacingAndGlyphs">Relative mRNA expression [RQ]</text>
<path d="M277.28 512.78V512.31M276.18 512.31H278.38" class="eb"/>
<rect x="275.17" y="512.78" width="4.23" height="22.72" fill="#ffffff" class="br"/>
<path d="M281.51 512.78V511.38M280.41 511.38H282.62" class="eb"/>
<rect x="279.4" y="512.78" width="4.23" height="22.72" fill="#a6a6a6" class="br"/>
<path d="M285.74 512.78V508.14M284.64 508.14H286.84" class="eb"/>
<rect x="283.63" y="512.78" width="4.23" height="22.72" fill="#000000" class="br"/>
<text x="281.51" y="545.9" class="cl">C</text>
<path d="M297.91 522.51V519.73M296.81 519.73H299.01" class="eb"/>
<rect x="295.8" y="522.51" width="4.23" height="12.99" fill="#ffffff" class="br"/>
<path d="M302.14 521.58V517.41M301.04 517.41H303.25" class="eb"/>
<rect x="300.03" y="521.58" width="4.23" height="13.92" fill="#a6a6a6" class="br"/>
<path d="M306.37 519.26V518.8M305.27 518.8H307.47" class="eb"/>
<rect x="304.26" y="519.26" width="4.23" height="16.24" fill="#000000" class="br"/>
<text x="302.14" y="545.9" class="cl">R</text>
<path d="M318.54 480.79V473.84M317.44 473.84H319.64" class="eb"/>
<rect x="316.43" y="480.79" width="4.23" height="54.71" fill="#ffffff" class="br"/>
<path d="M322.77 474.3V470.13M321.67 470.13H323.88" class="eb"/>
<rect x="320.66" y="474.3" width="4.23" height="61.2" fill="#a6a6a6" class="br"/>
<path d="M327 505.36V501.19M325.9 501.19H328.1" class="eb"/>
<rect x="324.89" y="505.36" width="4.23" height="30.14" fill="#000000" class="br"/>
<text x="322.77" y="545.9" class="cl">H16</text>
<path d="M339.17 493.31V484.04M338.07 484.04H340.27" class="eb"/>
<rect x="337.06" y="493.31" width="4.23" height="42.19" fill="#ffffff" class="br"/>
<path d="M343.4 492.38V491.92M342.3 491.92H344.5" class="eb"/>
<rect x="341.29" y="492.38" width="4.23" height="43.12" fill="#a6a6a6" class="br"/>
<path d="M347.63 508.14V493.77M346.53 493.77H348.73" class="eb"/>
<rect x="345.52" y="508.14" width="4.23" height="27.36" fill="#000000" class="br"/>
<text x="343.4" y="545.9" class="cl">H16R</text>
<path d="M359.8 487.75V480.79M358.7 480.79H360.9" class="eb"/>
<rect x="357.69" y="487.75" width="4.23" height="47.75" fill="#ffffff" class="br"/>
<path d="M364.03 490.53V489.14M362.93 489.14H365.13" class="eb"/>
<rect x="361.92" y="490.53" width="4.23" height="44.97" fill="#a6a6a6" class="br"/>
<path d="M368.26 501.19V491.92M367.16 491.92H369.36" class="eb"/>
<rect x="366.15" y="501.19" width="4.23" height="34.31" fill="#000000" class="br"/>
<text x="364.03" y="545.9" class="cl">RH16</text>
<path d="M380.43 470.6V462.25M379.33 462.25H381.53" class="eb"/>
<rect x="378.32" y="470.6" width="4.23" height="64.9" fill="#ffffff" class="br"/>
<path d="M384.66 471.99V467.82M383.56 467.82H385.76" class="eb"/>
<rect x="382.55" y="471.99" width="4.23" height="63.51" fill="#a6a6a6" class="br"/>
<path d="M388.89 506.29V504.43M387.79 504.43H389.99" class="eb"/>
<rect x="386.78" y="506.29" width="4.23" height="29.21" fill="#000000" class="br"/>
<text x="384.66" y="545.9" class="cl">H2</text>
<path d="M401.07 480.79V476.62M399.97 476.62H402.17" class="eb"/>
<rect x="398.95" y="480.79" width="4.23" height="54.71" fill="#ffffff" class="br"/>
<path d="M405.3 481.72V479.87M404.2 479.87H406.4" class="eb"/>
<rect x="403.18" y="481.72" width="4.23" height="53.78" fill="#a6a6a6" class="br"/>
<path d="M409.53 492.84V492.38M408.43 492.38H410.63" class="eb"/>
<rect x="407.41" y="492.84" width="4.23" height="42.66" fill="#000000" class="br"/>
<text x="405.29" y="545.9" class="cl">H2R</text>
<path d="M421.7 474.3V473.38M420.6 473.38H422.8" class="eb"/>
<rect x="419.58" y="474.3" width="4.23" height="61.2" fill="#ffffff" class="br"/>
<path d="M425.93 477.55V466.43M424.83 466.43H427.03" class="eb"/>
<rect x="423.81" y="477.55" width="4.23" height="57.95" fill="#a6a6a6" class="br"/>
<path d="M430.16 506.29V505.36M429.06 505.36H431.26" class="eb"/>
<rect x="428.04" y="506.29" width="4.23" height="29.21" fill="#000000" class="br"/>
<text x="425.92" y="545.9" class="cl">RH2</text>
<path d="M271.5 442.8V535.5H436.24" class="ax"/>
<path d="M316.1 449.5H324.8" class="sg"/>
<text x="320.2" y="447.25" class="st">*</text>
<path d="M378.8 454.5H387.7" class="sg"/>
<text x="383" y="451.75" class="st">*</text>
<rect x="417.25" y="426.5" width="3.4" height="3.4" fill="#ffffff" class="lg"/>
<text x="422.9" y="429.85" class="le" textLength="15" lengthAdjust="spacingAndGlyphs">WI-38</text>
<rect x="417.25" y="433.8" width="3.4" height="3.4" fill="#a6a6a6" class="lg"/>
<text x="422.9" y="437.15" class="le" textLength="11.4" lengthAdjust="spacingAndGlyphs">HFL1</text>
<rect x="417.25" y="440.8" width="3.4" height="3.4" fill="#000000" class="lg"/>
<text x="422.9" y="444.15" class="le" textLength="13.9" lengthAdjust="spacingAndGlyphs">NHBE</text>
</svg></body></html>
